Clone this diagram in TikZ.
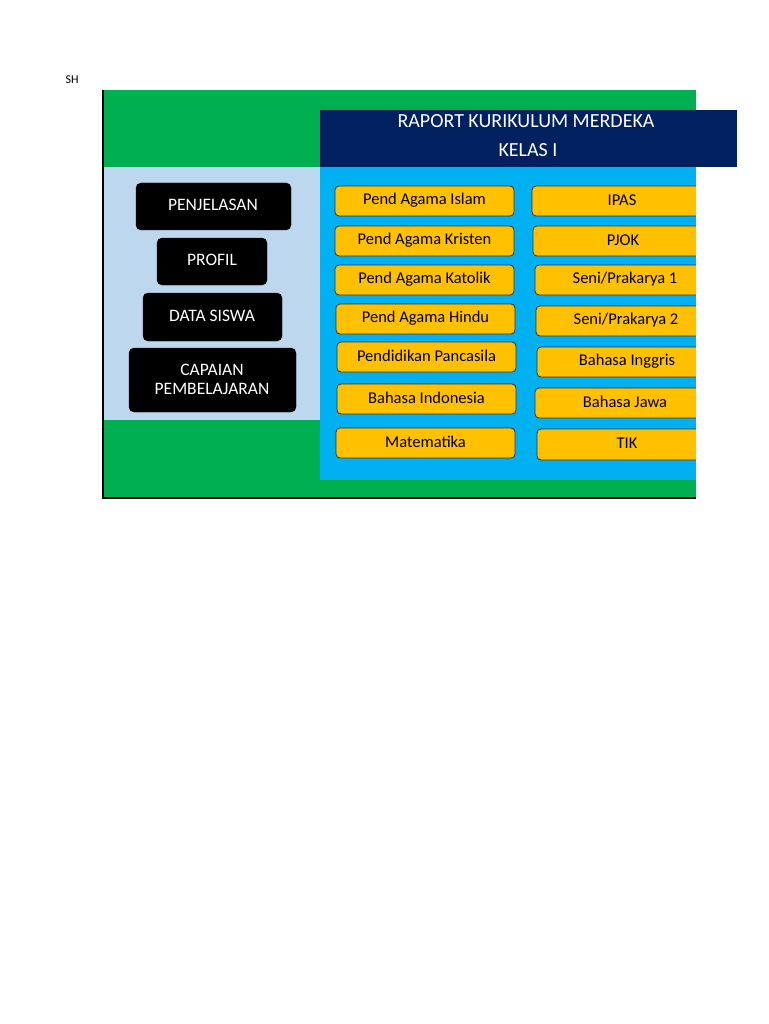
\documentclass[tikz,border=0pt]{standalone}
\usepackage{fontspec}
\setmainfont{Carlito}
\definecolor{grn}{RGB}{0,176,80}
\definecolor{lblue}{RGB}{189,215,238}
\definecolor{cyanp}{RGB}{0,176,240}
\definecolor{navy}{RGB}{0,32,96}
\definecolor{org}{RGB}{255,192,0}
\tikzset{
 blk/.style={draw=black,fill=black,rounded corners=5pt},
 blkt/.style={text=white,font=\fontsize{17.5}{19}\selectfont,align=center},
 orb/.style={draw=black!80,line width=0.8pt,fill=org,rounded corners=4pt}
}
\newcommand{\obox}[5]{\draw[orb] (#1,#2) rectangle (#3,#4); \node[font=\fontsize{16.5}{18}\selectfont] at ({(#1+#3)/2},{(#2+#4)/2-1}) {#5};}
\begin{document}
\begin{tikzpicture}[x=1pt,y=-1pt]
\useasboundingbox (0,0) rectangle (768,1024);
\node[font=\fontsize{12}{14}\selectfont] (sh) at (72,80) {SH};
\fill[grn] (103,90) rectangle (696,498);
\draw[line width=2.5pt] (103,90) -- (103,498) -- (696,498);
\fill[lblue] (104,167) rectangle (320,420);
\fill[cyanp] (320,167) rectangle (696,480);
\fill[navy] (320,110) rectangle (737,167);
\node[text=white,font=\fontsize{20}{22}\selectfont] (t1) at (526,121) {RAPORT KURIKULUM MERDEKA};
\node[text=white,font=\fontsize{20}{22}\selectfont] (t2) at (528,150) {KELAS I};
\draw[blk] (136,183) rectangle (291,230); \node[blkt] (b1) at (213,205) {PENJELASAN};
\draw[blk] (157,238) rectangle (267,285); \node[blkt] (b2) at (212,260) {PROFIL};
\draw[blk] (143,293) rectangle (282,341); \node[blkt] (b3) at (212,316) {DATA SISWA};
\draw[blk] (129,348) rectangle (296,412); \node[blkt] (b4) at (212,379) {CAPAIAN\\PEMBELAJARAN};
\obox{335}{186}{514}{216}{Pend Agama Islam}
\obox{335}{226}{514}{256}{Pend Agama Kristen}
\obox{335}{265}{514}{295}{Pend Agama Katolik}
\obox{336}{304}{515}{334}{Pend Agama Hindu}
\obox{337}{342}{516}{372}{Pendidikan Pancasila}
\obox{337}{384}{516}{414}{Bahasa Indonesia}
\obox{336}{428}{515}{458}{Matematika}
\begin{scope}
\clip (520,170) rectangle (696,470);
\obox{532}{186}{712}{216}{IPAS}
\obox{533}{226}{713}{256}{PJOK}
\obox{535}{265}{715}{295}{Seni/Prakarya 1}
\obox{536}{306}{716}{336}{Seni/Prakarya 2}
\obox{537}{347}{717}{377}{Bahasa Inggris}
\obox{535}{388}{715}{418}{Bahasa Jawa}
\obox{537}{429}{717}{460}{TIK}
\end{scope}
\end{tikzpicture}
\end{document}
